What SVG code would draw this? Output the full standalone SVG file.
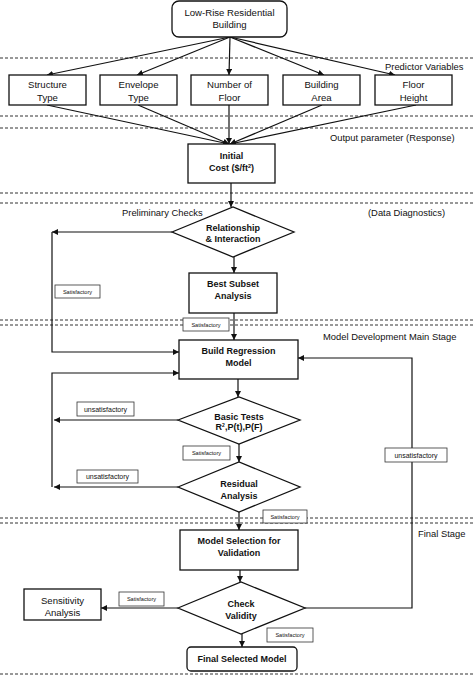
<svg xmlns="http://www.w3.org/2000/svg" width="474" height="675" viewBox="0 0 474 675">
<style>
text{font-family:"Liberation Sans",Arial,sans-serif;fill:#111;text-anchor:middle}
.n{font-size:9.6px}
.b{font-size:9px;font-weight:bold}
.lbl{font-size:9.4px;text-anchor:start}
.s{font-size:5.6px}
.u{font-size:7px}
.box{fill:#fff;stroke:#111;stroke-width:1.3}
.tag{fill:#fff;stroke:#333;stroke-width:0.8}
.dash{stroke:#333;stroke-width:1;stroke-dasharray:3,2;fill:none}
.c{stroke:#111;stroke-width:1.2;fill:none}
</style>
<defs>
<marker id="ah" markerWidth="6" markerHeight="6" refX="6" refY="3" orient="auto" markerUnits="userSpaceOnUse">
<path d="M0,0 L6,3 L0,6 z" fill="#111"/>
</marker>
</defs>
<rect width="474" height="675" fill="#fff"/>
<g id="separators">
<line class="dash" x1="0" y1="58" x2="474" y2="58"/>
<line class="dash" x1="0" y1="116" x2="474" y2="116"/>
<line class="dash" x1="0" y1="128" x2="474" y2="128"/>
<line class="dash" x1="0" y1="193" x2="474" y2="193"/>
<line class="dash" x1="0" y1="203" x2="474" y2="203"/>
<line class="dash" x1="0" y1="320" x2="474" y2="320"/>
<line class="dash" x1="0" y1="325" x2="474" y2="325"/>
<line class="dash" x1="0" y1="518" x2="474" y2="518"/>
<line class="dash" x1="0" y1="523" x2="474" y2="523"/>
<line class="dash" x1="0" y1="674" x2="474" y2="674"/>
</g>
<g id="stage-labels">
<text class="lbl" x="385" y="70">Predictor Variables</text>
<text class="lbl" x="330" y="141">Output  parameter (Response)</text>
<text class="lbl" x="122" y="216">Preliminary Checks</text>
<text class="lbl" x="368" y="216">(Data Diagnostics)</text>
<text class="lbl" x="323" y="340">Model Development Main Stage</text>
<text class="lbl" x="418" y="537">Final Stage</text>
</g>
<g id="connectors">
<line class="c" x1="230" y1="37" x2="47" y2="75" marker-end="url(#ah)"/>
<line class="c" x1="230" y1="37" x2="137" y2="75" marker-end="url(#ah)"/>
<line class="c" x1="230" y1="37" x2="229" y2="75" marker-end="url(#ah)"/>
<line class="c" x1="230" y1="37" x2="324" y2="75" marker-end="url(#ah)"/>
<line class="c" x1="230" y1="37" x2="395" y2="75" marker-end="url(#ah)"/>
<line class="c" x1="47" y1="105" x2="229" y2="144" marker-end="url(#ah)"/>
<line class="c" x1="138" y1="105" x2="229" y2="144" marker-end="url(#ah)"/>
<line class="c" x1="229" y1="105" x2="229" y2="144" marker-end="url(#ah)"/>
<line class="c" x1="322" y1="105" x2="230" y2="144" marker-end="url(#ah)"/>
<line class="c" x1="416" y1="105" x2="230" y2="144" marker-end="url(#ah)"/>
<line class="c" x1="231" y1="183" x2="231" y2="207" marker-end="url(#ah)"/>
<line class="c" x1="172" y1="232" x2="52" y2="232" marker-end="url(#ah)"/>
<polyline class="c" points="52,232 52,352 179,352" marker-end="url(#ah)"/>
<line class="c" x1="234" y1="257" x2="234" y2="273" marker-end="url(#ah)"/>
<line class="c" x1="234" y1="313" x2="234" y2="340" marker-end="url(#ah)"/>
<line class="c" x1="238" y1="379" x2="238" y2="397" marker-end="url(#ah)"/>
<line class="c" x1="178" y1="420" x2="54" y2="420" marker-end="url(#ah)"/>
<line class="c" x1="178" y1="487" x2="54" y2="487" marker-end="url(#ah)"/>
<polyline class="c" points="52,487 52,373 179,373" marker-end="url(#ah)"/>
<line class="c" x1="239" y1="444" x2="239" y2="462" marker-end="url(#ah)"/>
<line class="c" x1="239" y1="512" x2="239" y2="530" marker-end="url(#ah)"/>
<line class="c" x1="240" y1="570" x2="240" y2="582" marker-end="url(#ah)"/>
<line class="c" x1="178" y1="608" x2="101" y2="608" marker-end="url(#ah)"/>
<polyline class="c" points="305,608 412,608 412,358 298,358" marker-end="url(#ah)"/>
<line class="c" x1="242" y1="634" x2="242" y2="647" marker-end="url(#ah)"/>
</g>
<g id="n-building">
<rect class="box" x="172" y="1" width="115" height="36" rx="7"/>
<text class="n" x="229.5" y="16">Low-Rise Residential</text>
<text class="n" x="229.5" y="28">Building</text>
</g>
<g id="n-structure">
<rect class="box" x="9" y="75" width="77" height="30"/>
<text class="n" x="47.5" y="88">Structure</text>
<text class="n" x="47.5" y="101">Type</text>
</g>
<g id="n-envelope">
<rect class="box" x="100" y="75" width="77" height="30"/>
<text class="n" x="138.5" y="88">Envelope</text>
<text class="n" x="138.5" y="101">Type</text>
</g>
<g id="n-floors">
<rect class="box" x="191" y="75" width="77" height="30"/>
<text class="n" x="229.5" y="88">Number of</text>
<text class="n" x="229.5" y="101">Floor</text>
</g>
<g id="n-area">
<rect class="box" x="283" y="75" width="77" height="30"/>
<text class="n" x="321.5" y="88">Building</text>
<text class="n" x="321.5" y="101">Area</text>
</g>
<g id="n-height">
<rect class="box" x="375" y="75" width="77" height="30"/>
<text class="n" x="413.5" y="88">Floor</text>
<text class="n" x="413.5" y="101">Height</text>
</g>
<g id="n-cost">
<rect class="box" x="188" y="144" width="87" height="39"/>
<text class="b" x="231.5" y="159">Initial</text>
<text class="b" x="231.5" y="171">Cost ($/ft<tspan font-size="5.5" dy="-3.5">2</tspan><tspan dy="3.5">)</tspan></text>
</g>
<g id="n-relationship">
<polygon class="box" points="172,232 233,207 294,232 233,257"/>
<text class="b" x="233" y="231" font-size="8.4">Relationship</text>
<text class="b" x="233" y="242" font-size="8.4">&amp; Interaction</text>
</g>
<g id="n-subset">
<rect class="box" x="189" y="273" width="88" height="40"/>
<text class="b" x="233" y="287">Best Subset</text>
<text class="b" x="233" y="299">Analysis</text>
</g>
<g id="n-build">
<rect class="box" x="179" y="340" width="119" height="39"/>
<text class="b" x="238.5" y="354">Build Regression</text>
<text class="b" x="238.5" y="366">Model</text>
</g>
<g id="n-basic">
<polygon class="box" points="178,420 239,397 300,420 239,444"/>
<text class="b" x="239" y="419.5" font-size="8">Basic Tests</text>
<text class="b" x="239" y="430" font-size="8">R<tspan font-size="5" dy="-3">2</tspan><tspan dy="3">,P(t),P(F)</tspan></text>
</g>
<g id="n-residual">
<polygon class="box" points="178,487 239,462 300,487 239,512"/>
<text class="b" x="239" y="486.5" font-size="9.6">Residual</text>
<text class="b" x="239" y="498.5" font-size="9.6">Analysis</text>
</g>
<g id="n-selection">
<rect class="box" x="180" y="530" width="118" height="40"/>
<text class="b" x="239" y="544">Model Selection for</text>
<text class="b" x="239" y="556">Validation</text>
</g>
<g id="n-check">
<polygon class="box" points="178,608 241,582 305,608 241,634"/>
<text class="b" x="241" y="606.5" font-size="9.6">Check</text>
<text class="b" x="241" y="618.5" font-size="9.6">Validity</text>
</g>
<g id="n-sensitivity">
<rect class="box" x="24" y="589" width="77" height="31"/>
<text class="n" x="62.5" y="604">Sensitivity</text>
<text class="n" x="62.5" y="615.5">Analysis</text>
</g>
<g id="n-final">
<rect class="box" x="187" y="647" width="110" height="24" rx="4"/>
<text class="b" x="242" y="662">Final Selected Model</text>
</g>
<g id="edge-labels">
<rect class="tag" x="55" y="285" width="45" height="13"/>
<text class="s" x="77.5" y="293.5">Satisfactory</text>
<rect class="tag" x="183" y="318" width="46" height="13"/>
<text class="s" x="206" y="326.5">Satisfactory</text>
<rect class="tag" x="77" y="402" width="57" height="14"/>
<text class="u" x="105.5" y="411.5">unsatisfactory</text>
<rect class="tag" x="183" y="446" width="47" height="14"/>
<text class="s" x="206.5" y="455">Satisfactory</text>
<rect class="tag" x="77" y="470" width="61" height="13"/>
<text class="u" x="107.5" y="479">unsatisfactory</text>
<rect class="tag" x="385" y="448" width="62" height="14"/>
<text class="u" x="416" y="457.5">unsatisfactory</text>
<rect class="tag" x="263" y="510" width="44" height="13"/>
<text class="s" x="285" y="518.5">Satisfactory</text>
<rect class="tag" x="119" y="592" width="45" height="14"/>
<text class="s" x="141.5" y="601">Satisfactory</text>
<rect class="tag" x="267" y="628" width="46" height="14"/>
<text class="s" x="290" y="637">Satisfactory</text>
</g>
</svg>
